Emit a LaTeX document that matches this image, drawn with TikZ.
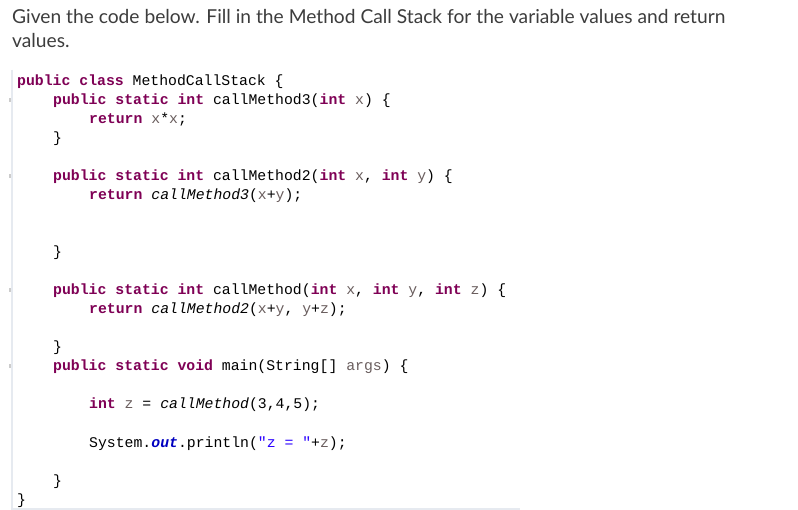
\documentclass[tikz,border=0pt]{standalone}
\usepackage{fontspec}
\setmainfont{Lato}
\setmonofont{Liberation Mono}
\definecolor{kw}{HTML}{7F0055}
\definecolor{var}{HTML}{6A5E5E}
\definecolor{str}{HTML}{2A00FF}
\definecolor{fld}{HTML}{0000C0}
\definecolor{head}{HTML}{3D3D3D}
\definecolor{edge}{HTML}{E6EAF0}
\newcommand{\K}[1]{\textcolor{kw}{\textbf{#1}}}
\newcommand{\V}[1]{\textcolor{var}{#1}}
\newcommand{\I}[1]{\textit{#1}}
\begin{document}
\begin{tikzpicture}[x=1pt,y=-1pt,
  code/.style={anchor=base west,inner sep=0pt,font=\ttfamily\fontsize{14.8}{14.8}\selectfont},
  hd/.style={anchor=base west,inner sep=0pt,text=head,font=\fontsize{19.2}{19.2}\selectfont},
  mk/.style={fill=gray!40,draw=none}]
\useasboundingbox (0,0) rectangle (798,510);
\fill[white] (0,0) rectangle (798,510);
\draw[edge,line width=1.5pt] (12,70) -- (12,510);
\draw[edge,line width=2pt] (12,509) -- (520,509);
\node[hd] (h1) at (12,24) {Given the code below. Fill in the Method Call Stack for the variable values and return};
\node[hd] (h2) at (12,48) {values.};
\foreach \yy in {100,176,290,366} \fill[mk] (9,\yy-2) rectangle (11,\yy+2);
\node[code] (l1) at (17,86) {\K{public} \K{class} MethodCallStack \{};
\node[code] (l2) at (53,105) {\K{public} \K{static} \K{int} callMethod3(\K{int} \V{x}) \{};
\node[code] (l3) at (89,124) {\K{return} \V{x}*\V{x};};
\node[code] (l4) at (53,143) {\}};
\node[code] (l5) at (53,181) {\K{public} \K{static} \K{int} callMethod2(\K{int} \V{x}, \K{int} \V{y}) \{};
\node[code] (l6) at (89,200) {\K{return} \I{callMethod3}(\V{x}+\V{y});};
\node[code] (l7) at (53,257) {\}};
\node[code] (l8) at (53,295) {\K{public} \K{static} \K{int} callMethod(\K{int} \V{x}, \K{int} \V{y}, \K{int} \V{z}) \{};
\node[code] (l9) at (89,314) {\K{return} \I{callMethod2}(\V{x}+\V{y}, \V{y}+\V{z});};
\node[code] (l10) at (53,352) {\}};
\node[code] (l11) at (53,371) {\K{public} \K{static} \K{void} main(String[] \V{args}) \{};
\node[code] (l12) at (89,409) {\K{int} \V{z} = \I{callMethod}(3,4,5);};
\node[code] (l13) at (89,447) {System.\textcolor{fld}{\textbf{\textit{out}}}.println(\textcolor{str}{"z = "}+\V{z});};
\node[code] (l14) at (53,485) {\}};
\node[code] (l15) at (17,504) {\}};
\end{tikzpicture}
\end{document}
